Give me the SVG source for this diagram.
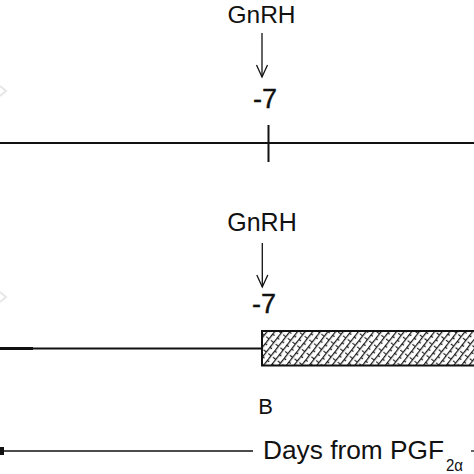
<svg xmlns="http://www.w3.org/2000/svg" width="474" height="474" viewBox="0 0 474 474">
  <style>
    .t { font-family: "Liberation Sans", Arial, sans-serif; fill: #111; }
    .b { stroke: #111; stroke-width: 0.4; }
    .ln { stroke: #111; fill: none; }
  </style>
  <defs>
    <pattern id="brick" patternUnits="userSpaceOnUse" width="12" height="6" patternTransform="rotate(-52)">
      <rect width="12" height="6" fill="#fff"/>
      <path d="M0 0.6H12M0.6 0V3M6.6 3V6" stroke="#1a1a1a" stroke-width="1.1" fill="none"/>
    </pattern>
  </defs>
  <rect width="474" height="474" fill="#fff"/>

  <g id="timeline-a">
    <text class="t" x="261.5" y="22.5" font-size="24.5" text-anchor="middle">GnRH</text>
    <text class="t b" x="265" y="108" font-size="27" text-anchor="middle">-7</text>
    <line class="ln" x1="0" y1="143" x2="474" y2="143" stroke-width="2.2"/>
    <line class="ln" x1="268.5" y1="125" x2="268.5" y2="162" stroke-width="2"/>
    <path d="M0 86L6 91L0 96" stroke="#e6e6e6" stroke-width="2" fill="none"/>
  </g>

  <g id="timeline-b">
    <text class="t" x="262" y="231" font-size="25" text-anchor="middle">GnRH</text>
    <text class="t b" x="264" y="313" font-size="27" text-anchor="middle">-7</text>
    <line class="ln" x1="0" y1="348.5" x2="262" y2="348.5" stroke-width="1.8"/>
    <line class="ln" x1="0" y1="348.5" x2="33" y2="348.5" stroke-width="3"/>
    <rect x="262" y="331" width="216" height="34.5" fill="url(#brick)" stroke="#111" stroke-width="2"/>
    <text class="t" x="265.5" y="413.5" font-size="22" text-anchor="middle">B</text>
    <path d="M0 292L6 297L0 302" stroke="#e6e6e6" stroke-width="2" fill="none"/>
  </g>

  <g id="axis">
    <text class="t" x="263" y="459" font-size="25" textLength="181" lengthAdjust="spacingAndGlyphs">Days from PGF</text>
    <text class="t" x="446" y="470.5" font-size="16" textLength="17" lengthAdjust="spacingAndGlyphs">2α</text>
  </g>

  <g id="connectors">
    <line class="ln" x1="262" y1="33" x2="262" y2="77" stroke-width="1.3"/>
    <path class="ln" d="M256.5 65L262 77L267.5 65" stroke-width="1.3"/>
    <line class="ln" x1="262.3" y1="243" x2="262.3" y2="287" stroke-width="1.3"/>
    <path class="ln" d="M256.8 275L262.3 287L267.8 275" stroke-width="1.3"/>
    <line class="ln" x1="3" y1="451" x2="253" y2="451" stroke-width="1.5"/>
    <path d="M0 447L4 447L4 455L0 455Z" fill="#111"/>
    <line class="ln" x1="471" y1="451" x2="474" y2="451" stroke-width="1.3"/>
  </g>
</svg>
